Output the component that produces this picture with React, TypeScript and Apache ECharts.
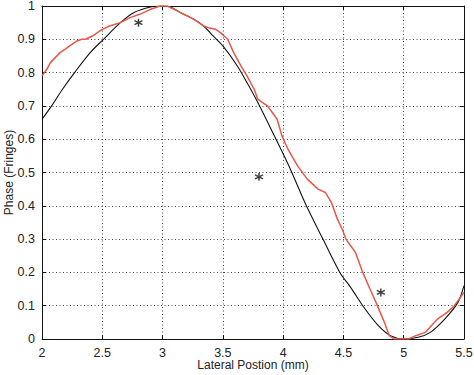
import React, { useEffect, useRef } from "react";
import * as echarts from "echarts";

const xTicks = { min: 2, max: 5.5, interval: 0.5 };
const yTicks = { min: 0, max: 1, interval: 0.1 };

const blackCurve: [number, number][] = [
  [2.0, 0.66], [2.08, 0.7], [2.17, 0.75], [2.27, 0.8], [2.4, 0.86], [2.51, 0.9],
  [2.65, 0.95], [2.76, 0.98], [2.9, 0.997], [3.0, 1.0], [3.06, 0.998], [3.15, 0.98],
  [3.26, 0.96], [3.34, 0.94], [3.42, 0.91], [3.5, 0.88], [3.62, 0.82], [3.7, 0.77],
  [3.79, 0.71], [3.9, 0.63], [4.06, 0.51], [4.18, 0.41], [4.33, 0.3], [4.47, 0.2],
  [4.56, 0.155], [4.66, 0.1], [4.79, 0.04], [4.89, 0.01], [5.0, 0.0], [5.12, 0.005],
  [5.22, 0.02], [5.34, 0.06], [5.45, 0.11], [5.5, 0.16],
];

const redCurve: [number, number][] = [
  [2.0, 0.79], [2.04, 0.81], [2.07, 0.83], [2.11, 0.845], [2.15, 0.86], [2.19, 0.87],
  [2.23, 0.88], [2.29, 0.895], [2.33, 0.9], [2.36, 0.9], [2.42, 0.91], [2.46, 0.92],
  [2.5, 0.93], [2.56, 0.94], [2.65, 0.95], [2.73, 0.965], [2.81, 0.975], [2.9, 0.99],
  [2.98, 1.0], [3.04, 1.0], [3.15, 0.98], [3.26, 0.96], [3.34, 0.94], [3.38, 0.935],
  [3.44, 0.93], [3.48, 0.92], [3.54, 0.9], [3.59, 0.86], [3.65, 0.82], [3.7, 0.79],
  [3.76, 0.75], [3.79, 0.72], [3.83, 0.71], [3.87, 0.7], [3.91, 0.68], [3.95, 0.66],
  [3.99, 0.61], [4.04, 0.57], [4.08, 0.545], [4.12, 0.52], [4.2, 0.48], [4.29, 0.45],
  [4.35, 0.44], [4.4, 0.41], [4.45, 0.36], [4.49, 0.33], [4.52, 0.3], [4.56, 0.28],
  [4.6, 0.26], [4.66, 0.2], [4.72, 0.15], [4.77, 0.11], [4.84, 0.05], [4.88, 0.01],
  [4.92, 0.0], [5.04, 0.0], [5.1, 0.01], [5.18, 0.02], [5.28, 0.06], [5.36, 0.08],
  [5.42, 0.1], [5.5, 0.14],
];

const markers: [number, number][] = [
  [2.8, 0.95], [3.8, 0.487], [4.81, 0.14],
];

const FONT = "Liberation Sans";

export default function App() {
  const ref = useRef<HTMLDivElement>(null);
  useEffect(() => {
    if (!ref.current) return;
    const chart = echarts.init(ref.current, null, { renderer: "svg" });
    const frameAxis = {
      axisLine: { show: true, onZero: false, lineStyle: { color: "#111", width: 1 } },
      axisTick: { show: true, inside: true, length: 4, lineStyle: { color: "#111" } },
      axisLabel: { show: false },
      splitLine: { show: false },
    };
    const gridLine = { show: true, lineStyle: { color: "#444", type: [1, 2.5], width: 1 } };
    chart.setOption({
      animation: false,
      backgroundColor: "#fff",
      grid: {
        left: 42, right: 10, top: 6, bottom: 36,
        containLabel: false, outerBoundsMode: "none",
      },
      xAxis: [
        {
          type: "value",
          ...xTicks,
          position: "bottom",
          name: "Lateral Postion (mm)",
          nameLocation: "middle",
          nameGap: 20,
          nameMoveOverlap: false,
          nameTextStyle: { fontFamily: FONT, fontSize: 12, color: "#222" },
          axisLine: { show: true, onZero: false, lineStyle: { color: "#111", width: 1 } },
          axisTick: { show: true, inside: true, length: 4, lineStyle: { color: "#111" } },
          axisLabel: { fontFamily: FONT, fontSize: 12.5, color: "#222", margin: 7 },
          splitLine: gridLine,
        },
        { type: "value", ...xTicks, position: "top", ...frameAxis },
      ],
      yAxis: [
        {
          type: "value",
          ...yTicks,
          position: "left",
          name: "Phase (Fringes)",
          nameLocation: "middle",
          nameGap: 27,
          nameMoveOverlap: false,
          nameTextStyle: { fontFamily: FONT, fontSize: 12, color: "#222" },
          axisLine: { show: true, onZero: false, lineStyle: { color: "#111", width: 1 } },
          axisTick: { show: true, inside: true, length: 4, lineStyle: { color: "#111" } },
          axisLabel: { fontFamily: FONT, fontSize: 12.5, color: "#222", margin: 7 },
          splitLine: gridLine,
        },
        { type: "value", ...yTicks, position: "right", ...frameAxis },
      ],
      series: [
        {
          type: "line",
          data: blackCurve,
          smooth: 0.3,
          showSymbol: false,
          lineStyle: { color: "#111", width: 1.1 },
          z: 3,
        },
        {
          type: "line",
          data: redCurve,
          showSymbol: false,
          lineStyle: { color: "#e8584a", width: 1.5 },
          z: 4,
        },
        {
          type: "scatter",
          data: markers,
          symbol: "path://M0,-5L0,5M-4.33,-2.5L4.33,2.5M-4.33,2.5L4.33,-2.5",
          symbolSize: 8,
          itemStyle: { color: "none", borderColor: "#111", borderWidth: 1.5 },
          z: 5,
        },
      ],
    });
    return () => chart.dispose();
  }, []);
  return (
    <div
      ref={ref}
      style={{ position: "fixed", left: 0, top: 0, width: 474, height: 375 }}
    />
  );
}
